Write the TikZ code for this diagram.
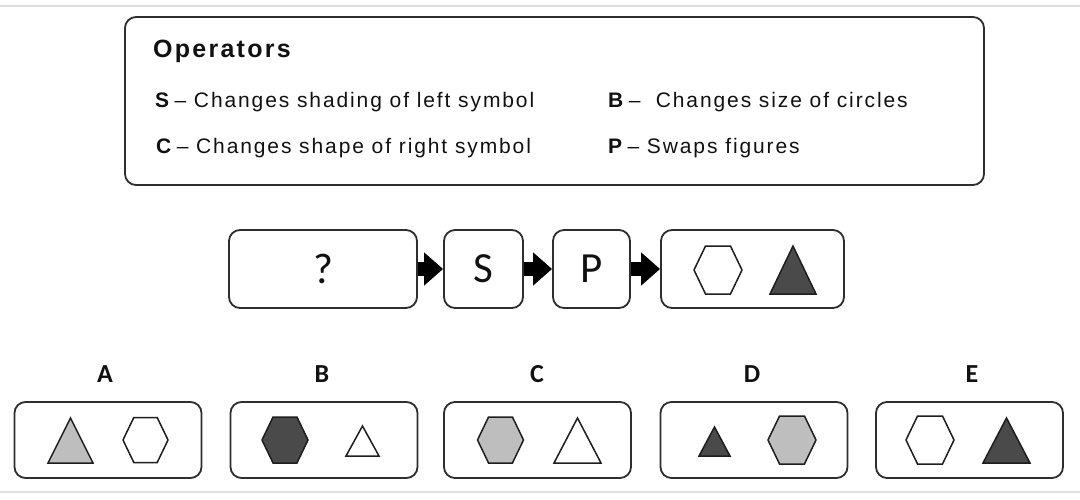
\documentclass[tikz,border=0pt]{standalone}
\usepackage{fontspec}
\setmainfont{Liberation Sans}
\newfontfamily\opfont[LetterSpace=9]{Liberation Sans}
\newfontfamily\headfont[LetterSpace=9]{Liberation Sans}
\newfontfamily\calfont{Carlito}
\usetikzlibrary{arrows.meta}
\definecolor{lightfill}{HTML}{BEBEBE}
\definecolor{darkfill}{HTML}{4A4A4A}
\definecolor{boxline}{HTML}{2E2E2E}
\definecolor{shapeink}{HTML}{1E1E1E}
\definecolor{rulegray}{HTML}{DEDEDE}
\definecolor{textink}{HTML}{111111}
\newcommand\hexshape[4]{% cx, cy, half width, fill
  \filldraw[shapeline,fill=#4] ({#1-#3},#2) -- ({#1-0.52*#3},{#2-#3}) -- ({#1+0.52*#3},{#2-#3}) -- ({#1+#3},#2) -- ({#1+0.52*#3},{#2+#3}) -- ({#1-0.52*#3},{#2+#3}) -- cycle;}
\newcommand\trishape[5]{% cx, base y, half width, height, fill
  \filldraw[shapeline,fill=#5] ({#1-#3},#2) -- ({#1+#3},#2) -- (#1,{#2-#4}) -- cycle;}
\begin{document}
\begin{tikzpicture}[x=1pt,y=-1pt,
  rbox/.style={draw=boxline,line width=1.8pt,rounded corners=11pt,inner sep=0pt,fill=white},
  chainbox/.style={rbox,minimum height=78pt},
  optbox/.style={rbox,minimum width=187pt,minimum height=76pt},
  optext/.style={anchor=base west,inner sep=0pt,text=textink,font=\opfont\fontsize{21}{24}\selectfont},
  headtext/.style={anchor=base west,inner sep=0pt,text=textink,font=\headfont\bfseries\fontsize{25}{29}\selectfont},
  bigletter/.style={inner sep=0pt,text=textink,font=\calfont\fontsize{43}{50}\selectfont},
  optlabel/.style={anchor=base,inner sep=0pt,text=textink,font=\calfont\bfseries\fontsize{26}{30}\selectfont},
  chainarrow/.style={line width=14pt,black,-{Triangle[width=32pt,length=19pt]}},
  shapeline/.style={draw=shapeink,line width=1.5pt,line join=miter}
]
\useasboundingbox (0,0) rectangle (1080,500);
\fill[white] (0,0) rectangle (1080,500);
\fill[rulegray] (0,5) rectangle (1080,7.5);
\fill[rulegray] (0,491) rectangle (1080,493);

% operators legend
\node[rbox,minimum width=859pt,minimum height=168pt] (ops) at (554.5,101) {};
\node[headtext] (opshead) at (153,58) {Operators};
\node[optext] (opS) at (155,107.5) {\textbf{S}\thinspace– Changes shading of left symbol};
\node[optext] (opB) at (608,107.5) {\textbf{B}\thinspace–\ \ Changes size of circles};
\node[optext] (opC) at (156,154) {\textbf{C}\thinspace– Changes shape of right symbol};
\node[optext] (opP) at (608,154) {\textbf{P}\thinspace– Swaps figures};

% chain
\node[chainbox,minimum width=188pt] (q) at (323,269) {};
\node[chainbox,minimum width=79pt] (s) at (483.5,269) {};
\node[chainbox,minimum width=77pt] (p) at (591.5,269) {};
\node[chainbox,minimum width=183pt] (res) at (752.5,269) {};
\node[bigletter] (qm) at (q.center) {?};
\node[bigletter] (sl) at (s.center) {S};
\node[bigletter] (pl) at (p.center) {P};
\draw[chainarrow] (q.east) -- (s.west);
\draw[chainarrow] (s.east) -- (p.west);
\draw[chainarrow] (p.east) -- (res.west);
\hexshape{718}{270}{24}{white}
\trishape{793}{294}{23}{48}{darkfill}

% options
\node[optbox] (optA) at (108,440) {};
\node[optbox] (optB) at (324,440) {};
\node[optbox] (optC) at (537.5,440) {};
\node[optbox] (optD) at (754,440) {};
\node[optbox] (optE) at (969.5,440) {};
\node[optlabel] (labA) at (105,382) {A};
\node[optlabel] (labB) at (322,382) {B};
\node[optlabel] (labC) at (537,382) {C};
\node[optlabel] (labD) at (752,382) {D};
\node[optlabel] (labE) at (972,382) {E};

\trishape{70.5}{463}{22.5}{45}{lightfill}
\hexshape{145.5}{440}{22.5}{white}
\hexshape{285}{440}{23}{darkfill}
\trishape{362.5}{456}{16.5}{30}{white}
\hexshape{500.5}{440}{23}{lightfill}
\trishape{577.5}{463}{23.5}{45}{white}
\trishape{714.5}{456}{15.5}{29}{darkfill}
\hexshape{792}{440}{24}{lightfill}
\hexshape{930}{440}{24}{white}
\trishape{1006.5}{463}{23.5}{45}{darkfill}
\end{tikzpicture}
\end{document}
